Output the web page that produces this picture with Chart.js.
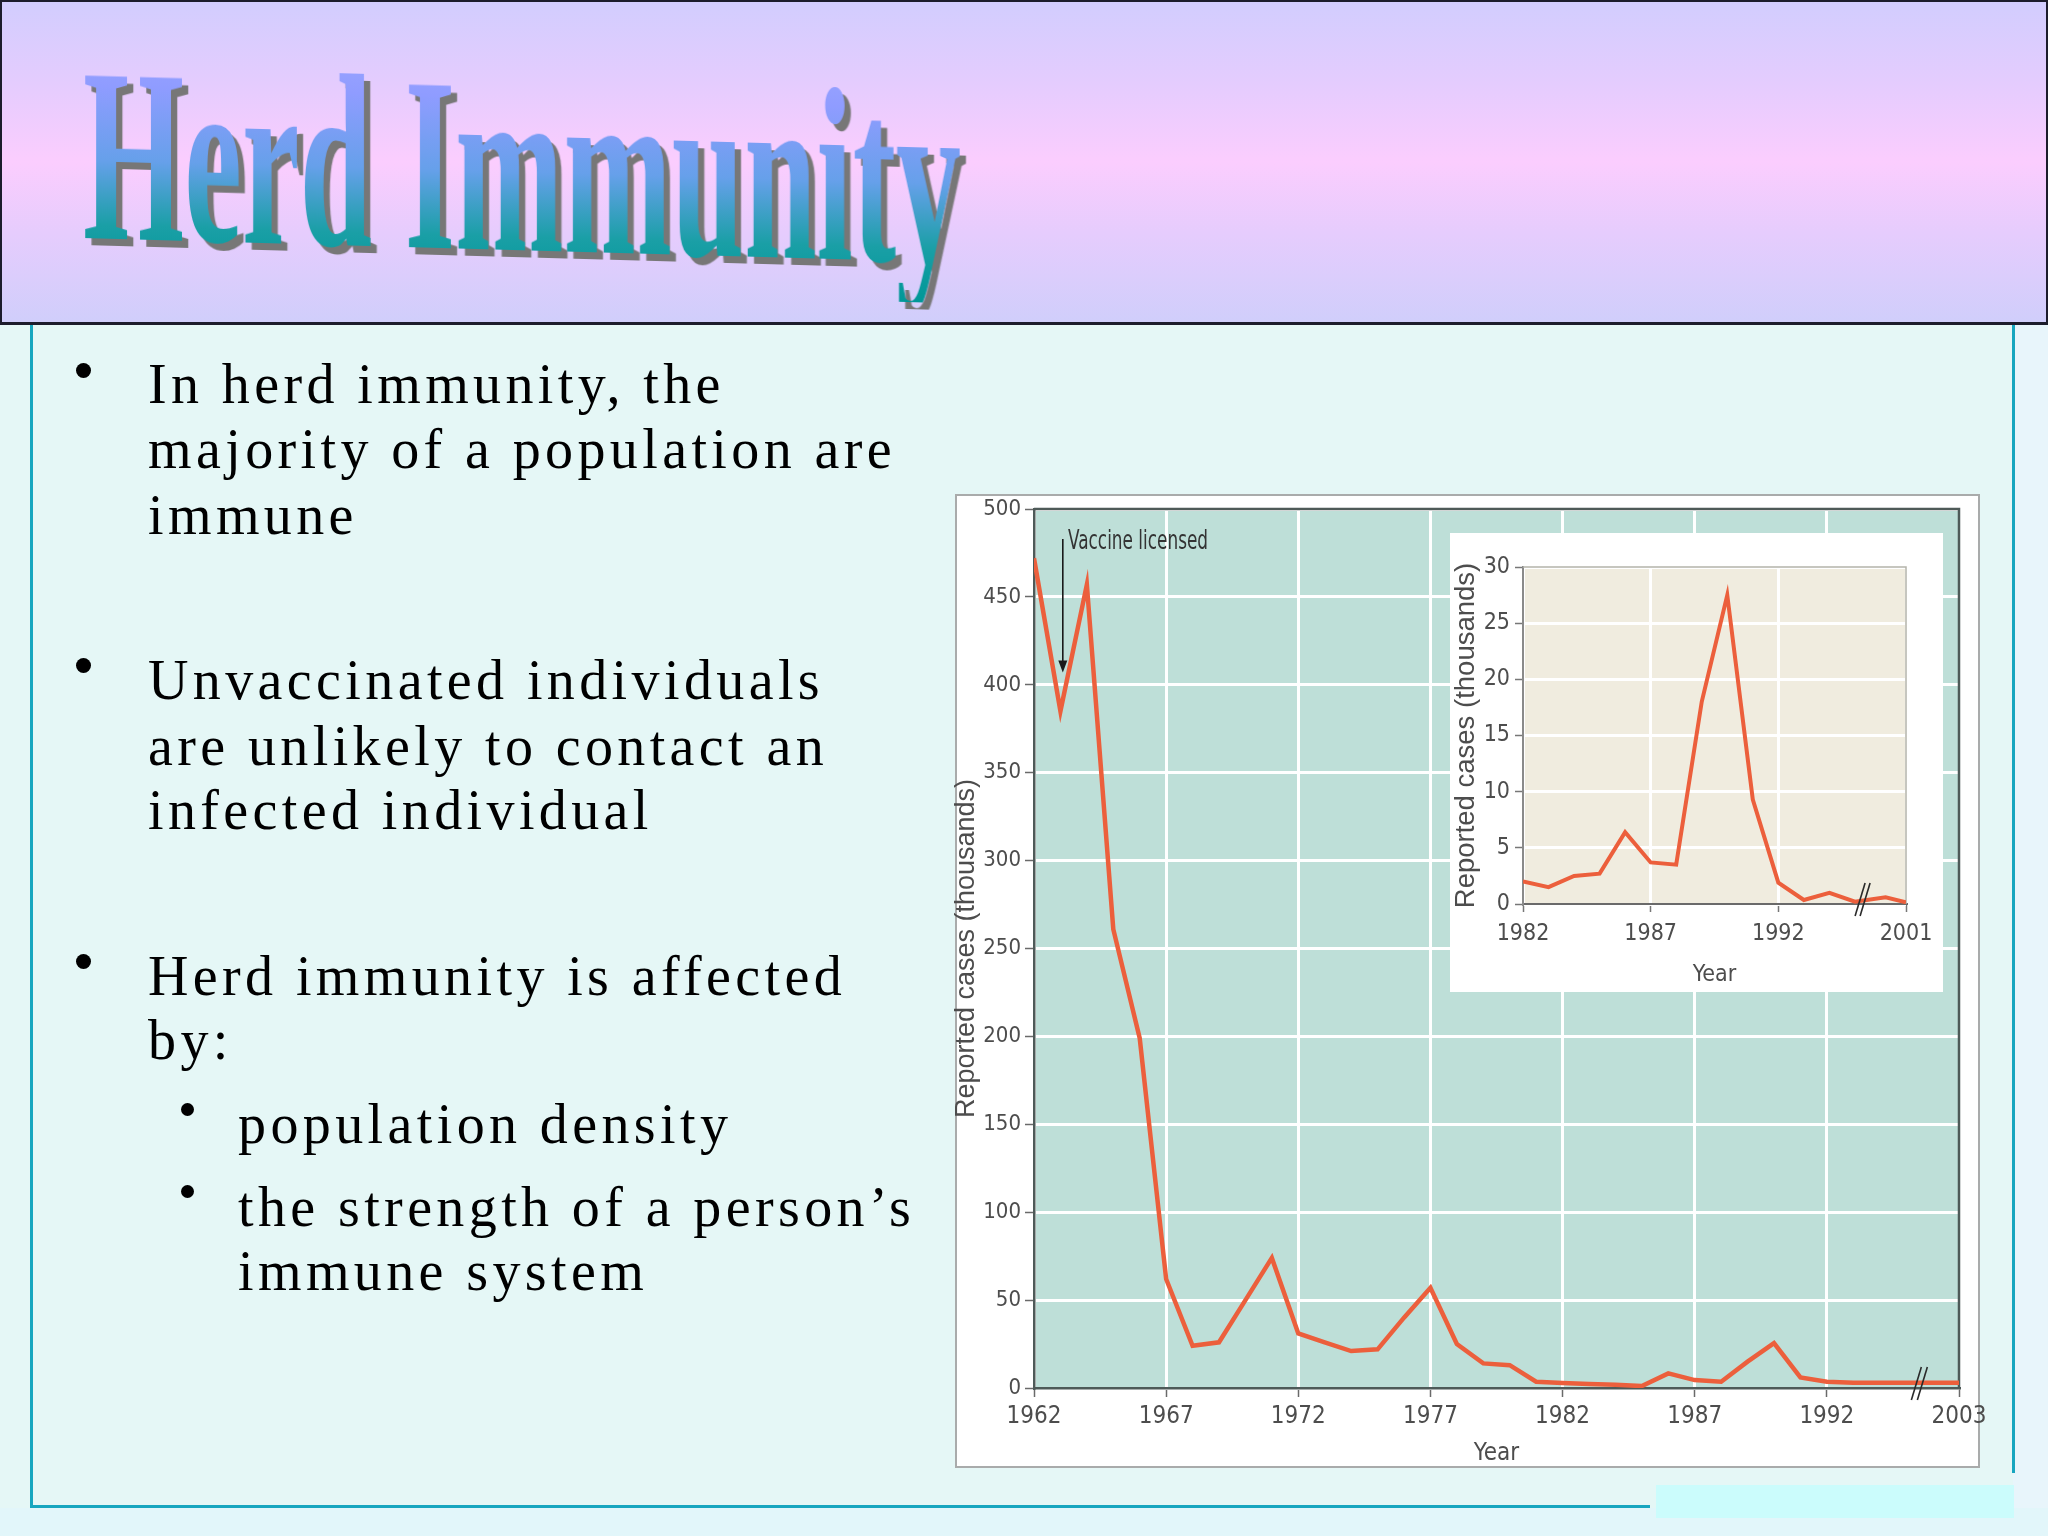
<!DOCTYPE html>
<html><head><meta charset="utf-8">
<script src="https://cdn.jsdelivr.net/npm/chart.js@4.4.1/dist/chart.umd.min.js"></script>
<style>
html,body{margin:0;padding:0}
body{width:2048px;height:1536px;position:relative;overflow:hidden;background:#e5f7f6;}
.abs{position:absolute}
#banner{left:0;top:0;width:2048px;height:325px;box-sizing:border-box;border:2px solid #1c1c2c;border-bottom-width:3px;
  background:linear-gradient(to bottom,#d2cdfe 0%,#e4ccfe 25%,#fbcdfe 50%,#e6ccfd 72%,#d0cefb 100%);}
#title{left:83px;top:31px;font-family:'Liberation Serif','Times New Roman',serif;font-weight:bold;font-size:248px;line-height:1;white-space:nowrap;
  background:linear-gradient(to bottom,#9ea6ff 0%,#8f9cff 22%,#66a0ea 52%,#1a9fa6 78%,#009797 100%);
  -webkit-background-clip:text;background-clip:text;color:transparent;-webkit-text-fill-color:transparent;
  transform-origin:0 0;filter:drop-shadow(12px 7px 0 #777777);}
.t{position:absolute;font-family:'Liberation Serif','Times New Roman',serif;font-size:56px;line-height:56px;white-space:nowrap;color:#000;}
.dot{position:absolute;border-radius:50%;background:#000;}
</style></head>
<body>
<div class="abs" style="left:2013px;top:325px;width:35px;height:1211px;background:#e8f5fb"></div>
<div class="abs" style="left:0;top:1508px;width:2048px;height:28px;background:#e2f6fa"></div>
<div class="abs" style="left:30px;top:325px;width:3px;height:1183px;background:#17a6bf"></div>
<div class="abs" style="left:30px;top:1505px;width:1620px;height:3px;background:#17a6bf"></div>
<div class="abs" style="left:2012px;top:325px;width:3px;height:1148px;background:#17a6bf"></div>
<div class="abs" style="left:1656px;top:1485px;width:358px;height:33px;background:#cbfcfc"></div>
<div id="banner" class="abs"></div>
<div id="title" class="abs">Herd Immunity</div>
<div id="text"></div>
<div class="abs" style="left:955px;top:494px;width:1025px;height:974px;box-sizing:border-box;background:#fff;border:2px solid #a9abab"></div>
<canvas id="main" class="abs" style="left:930px;top:490px" width="1080" height="990"></canvas>
<div class="abs" style="left:1450px;top:533px;width:493px;height:459px;background:#fff"></div>
<canvas id="inset" class="abs" style="left:1440px;top:525px" width="515" height="475"></canvas>
<script>
// ---------- data ----------
const mainYears = [1962,1963,1964,1965,1966,1967,1968,1969,1970,1971,1972,1973,1974,1975,1976,1977,1978,1979,1980,1981,1982,1983,1984,1985,1986,1987,1988,1989,1990,1991,1992,1993,1994,1995,2003];
const mainCases = [472,385,457,261,199,62,24,26,50,74,31,26,21,22,40,57,25,14,13,3.6,2.8,2.3,1.8,1.1,8.3,4.5,3.6,15,25.5,6,3.6,3,3,3,3];
const mainTickLabels = ['1962','1967','1972','1977','1982','1987','1992','2003'];
const insetYears = [1982,1983,1984,1985,1986,1987,1988,1989,1990,1991,1992,1993,1994,1995,2000,2001];
const insetCases = [2.0,1.5,2.5,2.7,6.4,3.7,3.5,18.0,27.5,9.3,1.9,0.36,1.0,0.2,0.6,0.15];
const insetTickLabels = ['1982','1987','1992','2001'];
const yTitle = 'Reported cases (thousands)';
const xTitle = 'Year';
const annotation = 'Vaccine licensed';

// axis-break transforms (years after the break are compressed)
function mainPos(y){ return y <= 1995 ? y - 1962 : 35 - (2003 - y) * 0.8; }
function insetPos(y){ return y <= 1995 ? y - 1982 : 15 - (2001 - y) * 0.8; }

// ---------- slide text ----------
const lines = [
  ['In herd immunity, the',148,403],
  ['majority of a population are',148,468],
  ['immune',148,534],
  ['Unvaccinated individuals',148,699],
  ['are unlikely to contact an',148,765],
  ['infected individual',148,829],
  ['Herd immunity is affected',148,995],
  ['by:',148,1059],
  ['population density',238,1143],
  ['the strength of a person\u2019s',238,1226],
  ['immune system',238,1290]
];
const dots = [[83,370,15],[83,665,15],[83,961,15],[187,1109,13],[187,1191,13]];
const host = document.getElementById('text');
const els = lines.map(([s,x,b])=>{
  const d = document.createElement('div'); d.className='t'; d.textContent=s;
  d.style.left = x+'px'; d.style.top = (b-47)+'px'; host.appendChild(d); return d;
});
const ref = els[1]; const w0 = ref.getBoundingClientRect().width;
const ls = (748 - w0) / ref.textContent.length;
els.forEach(e=>e.style.letterSpacing = ls+'px');
dots.forEach(([x,y,r])=>{
  const d=document.createElement('div'); d.className='dot';
  d.style.left=(x-r/2)+'px'; d.style.top=(y-r/2)+'px'; d.style.width=r+'px'; d.style.height=r+'px'; host.appendChild(d);
});
const title = document.getElementById('title');
const tw = title.getBoundingClientRect().width;
title.style.transform = 'skewY(1.6deg) scaleX(' + (878/tw) + ')';

// ---------- charts ----------
const NARROW = "'Liberation Sans Narrow','DejaVu Sans Condensed','Liberation Sans',sans-serif";
const SANS = "'Liberation Sans',Arial,sans-serif";
Chart.defaults.font.family = NARROW;
const LINE = '#ec5f3c';
const LABEL = '#4d4d4d';

function breakMarks(ctx, x, y, dx){
  ctx.save(); ctx.strokeStyle='#2a2a2a'; ctx.lineWidth=1.6;
  [-dx, dx].forEach(o=>{ ctx.beginPath(); ctx.moveTo(x+o-5, y+12); ctx.lineTo(x+o+5, y-21); ctx.stroke(); });
  ctx.restore();
}

const mainDecor = {
  id:'mainDecor',
  beforeDraw(c){ const a=c.chartArea, ctx=c.ctx; ctx.save(); ctx.fillStyle='#bedfd8'; ctx.fillRect(a.left,a.top,a.right-a.left,a.bottom-a.top); ctx.restore(); },
  beforeDatasetsDraw(c){ const a=c.chartArea, ctx=c.ctx; ctx.save(); ctx.strokeStyle='#4e5a58'; ctx.lineWidth=2.5;
    ctx.beginPath(); ctx.moveTo(a.left,a.top); ctx.lineTo(a.right,a.top); ctx.lineTo(a.right,a.bottom); ctx.stroke(); ctx.restore(); },
  afterDatasetsDraw(c){
    const ctx=c.ctx, xs=c.scales.x, ys=c.scales.y;
    breakMarks(ctx, xs.getPixelForValue(33.5), ys.getPixelForValue(0), 3);
    const ax = xs.getPixelForValue(1.09), y1 = ys.getPixelForValue(483), y2 = ys.getPixelForValue(407);
    ctx.save(); ctx.strokeStyle='#1a1a1a'; ctx.fillStyle='#1a1a1a'; ctx.lineWidth=1.6;
    ctx.beginPath(); ctx.moveTo(ax,y1); ctx.lineTo(ax,y2-8); ctx.stroke();
    ctx.beginPath(); ctx.moveTo(ax-4.5,y2-12); ctx.lineTo(ax+4.5,y2-12); ctx.lineTo(ax,y2); ctx.closePath(); ctx.fill();
    ctx.font = '26px ' + NARROW; ctx.fillStyle='#333'; ctx.textBaseline='alphabetic';
    const tx = xs.getPixelForValue(1.29), ty = ys.getPixelForValue(477);
    const m = ctx.measureText(annotation).width; const sx = 140/m;
    ctx.translate(tx,ty); ctx.scale(sx,1); ctx.fillText(annotation,0,0); ctx.restore();
  }
};

new Chart(document.getElementById('main'), {
  type:'line',
  data:{datasets:[{data: mainYears.map((y,i)=>({x:mainPos(y), y:mainCases[i]})), borderColor:LINE, borderWidth:4.5, pointRadius:0, tension:0, borderJoinStyle:'miter', fill:false}]},
  options:{
    responsive:false, animation:false, devicePixelRatio:1,
    layout:{padding:{left:0,top:19,right:51,bottom:12}},
    plugins:{legend:{display:false}, tooltip:{enabled:false}},
    scales:{
      x:{type:'linear', min:0, max:35, afterFit(s){ s.height=80; },
        ticks:{stepSize:5, autoSkip:false, maxRotation:0, color:LABEL, font:{size:24}, padding:5,
          callback:(v)=> mainTickLabels[Math.round(v/5)] ?? ''},
        grid:{color:'#ffffff', lineWidth:3, tickColor:'#6a6a6a', tickLength:9, tickWidth:1.5},
        border:{color:'#4e5a58', width:2.5},
        title:{display:true, text:xTitle, color:LABEL, font:{size:24, lineHeight:1.2}, padding:{top:0,bottom:0}}},
      y:{type:'linear', min:0, max:500, afterFit(s){ s.width=104; },
        ticks:{stepSize:50, color:LABEL, font:{size:22}, padding:4},
        grid:{color:'#ffffff', lineWidth:3, tickColor:'#6a6a6a', tickLength:9, tickWidth:1.5},
        border:{color:'#4e5a58', width:2.5},
        title:{display:true, text:yTitle, color:LABEL, font:{size:27, family:SANS, lineHeight:1.2}, padding:{top:20,bottom:0}}}
    }
  },
  plugins:[mainDecor]
});

const insetDecor = {
  id:'insetDecor',
  beforeDraw(c){ const a=c.chartArea, ctx=c.ctx; ctx.save(); ctx.fillStyle='#f0ecdf'; ctx.fillRect(a.left,a.top,a.right-a.left,a.bottom-a.top); ctx.restore(); },
  beforeDatasetsDraw(c){ const a=c.chartArea, ctx=c.ctx; ctx.save(); ctx.strokeStyle='#b4b4aa'; ctx.lineWidth=1.5;
    ctx.beginPath(); ctx.moveTo(a.left,a.top); ctx.lineTo(a.right,a.top); ctx.lineTo(a.right,a.bottom); ctx.stroke(); ctx.restore(); },
  afterDatasetsDraw(c){ const xs=c.scales.x, ys=c.scales.y; breakMarks(c.ctx, xs.getPixelForValue(13.3), ys.getPixelForValue(0), 2.5); }
};

new Chart(document.getElementById('inset'), {
  type:'line',
  data:{datasets:[{data: insetYears.map((y,i)=>({x:insetPos(y), y:insetCases[i]})), borderColor:LINE, borderWidth:4, pointRadius:0, tension:0, borderJoinStyle:'miter', fill:false}]},
  options:{
    responsive:false, animation:false, devicePixelRatio:1,
    layout:{padding:{left:0,top:42,right:49,bottom:16}},
    plugins:{legend:{display:false}, tooltip:{enabled:false}},
    scales:{
      x:{type:'linear', min:0, max:15, afterFit(s){ s.height=80; },
        ticks:{stepSize:5, autoSkip:false, maxRotation:0, color:LABEL, font:{size:23}, padding:8,
          callback:(v)=> insetTickLabels[Math.round(v/5)] ?? ''},
        grid:{color:'#ffffff', lineWidth:3, tickColor:'#777', tickLength:8, tickWidth:1.5},
        border:{color:'#6a6a6a', width:2},
        title:{display:true, text:xTitle, color:LABEL, font:{size:23, lineHeight:1}, padding:{top:0,bottom:-3}}},
      y:{type:'linear', min:0, max:30, afterFit(s){ s.width=83; },
        ticks:{stepSize:5, color:LABEL, font:{size:23}, padding:5},
        grid:{color:'#ffffff', lineWidth:3, tickColor:'#777', tickLength:8, tickWidth:1.5},
        border:{color:'#8a8a8a', width:2},
        title:{display:true, text:yTitle, color:LABEL, font:{size:27.5, family:SANS, lineHeight:1.2}, padding:{top:10,bottom:0}}}
    }
  },
  plugins:[insetDecor]
});
</script>
</body></html>
